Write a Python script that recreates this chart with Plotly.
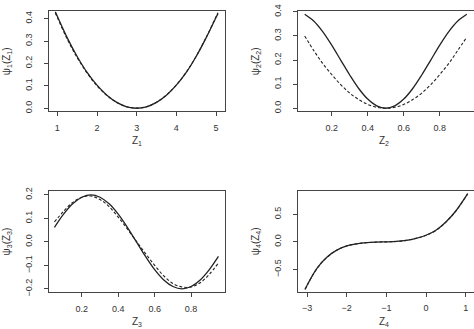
import plotly.graph_objects as go

# Component functions: true curve (solid) and estimate (dashed)
z1 = [0.95, 1.0, 1.25, 1.5, 1.75, 2.0, 2.25, 2.5, 2.75, 3.0, 3.25, 3.5, 3.75, 4.0, 4.25, 4.5, 4.75, 5.0, 5.05]
psi1_true = [0.430, 0.410, 0.314, 0.231, 0.160, 0.103, 0.058, 0.026, 0.006, 0.0, 0.006, 0.026, 0.058, 0.103, 0.160, 0.231, 0.314, 0.405, 0.422]
psi1_est = [0.425, 0.405, 0.308, 0.226, 0.157, 0.100, 0.057, 0.026, 0.007, 0.001, 0.007, 0.027, 0.059, 0.104, 0.161, 0.232, 0.315, 0.408, 0.426]

z2 = [0.05, 0.10, 0.15, 0.20, 0.25, 0.30, 0.35, 0.40, 0.45, 0.50, 0.55, 0.60, 0.65, 0.70, 0.75, 0.80, 0.85, 0.90, 0.95]
psi2_true = [0.390, 0.362, 0.318, 0.262, 0.200, 0.138, 0.082, 0.038, 0.010, 0.0, 0.010, 0.038, 0.082, 0.138, 0.200, 0.262, 0.318, 0.362, 0.390]
psi2_est = [0.300, 0.240, 0.186, 0.140, 0.098, 0.063, 0.036, 0.016, 0.004, 0.0, 0.004, 0.016, 0.036, 0.063, 0.098, 0.140, 0.186, 0.240, 0.295]

z3 = [0.05, 0.10, 0.15, 0.20, 0.25, 0.30, 0.35, 0.40, 0.45, 0.50, 0.55, 0.60, 0.65, 0.70, 0.75, 0.80, 0.85, 0.90, 0.95]
psi3_true = [0.062, 0.118, 0.162, 0.190, 0.200, 0.190, 0.162, 0.118, 0.062, 0.0, -0.062, -0.118, -0.162, -0.190, -0.200, -0.190, -0.162, -0.118, -0.062]
psi3_est = [0.085, 0.130, 0.168, 0.190, 0.195, 0.180, 0.150, 0.105, 0.055, 0.002, -0.050, -0.100, -0.145, -0.177, -0.192, -0.192, -0.174, -0.138, -0.090]

z4 = [-3.05, -2.75, -2.5, -2.25, -2.0, -1.75, -1.5, -1.25, -1.0, -0.75, -0.5, -0.25, 0.0, 0.25, 0.5, 0.75, 1.05]
psi4_true = [-0.860, -0.480, -0.280, -0.150, -0.075, -0.037, -0.015, -0.004, 0.0, 0.008, 0.028, 0.065, 0.120, 0.210, 0.360, 0.560, 0.875]
psi4_est = [-0.865, -0.485, -0.283, -0.152, -0.076, -0.037, -0.015, -0.004, 0.0, 0.007, 0.027, 0.064, 0.118, 0.208, 0.357, 0.558, 0.872]

x_ticks = [[1, 2, 3, 4, 5], [0.2, 0.4, 0.6, 0.8], [0.2, 0.4, 0.6, 0.8], [-3, -2, -1, 0, 1]]
y_ticks = [[0.0, 0.1, 0.2, 0.3, 0.4], [0.0, 0.1, 0.2, 0.3, 0.4], [-0.2, -0.1, 0.0, 0.1, 0.2], [-0.5, 0.0, 0.5]]
x_titles = ["Z<sub>1</sub>", "Z<sub>2</sub>", "Z<sub>3</sub>", "Z<sub>4</sub>"]
y_titles = ["ψ<sub>1</sub>(Z<sub>1</sub>)", "ψ<sub>2</sub>(Z<sub>2</sub>)",
            "ψ<sub>3</sub>(Z<sub>3</sub>)", "ψ<sub>4</sub>(Z<sub>4</sub>)"]

W, H = 474, 329
FONT = "Liberation Sans, Arial, sans-serif"
INK = "#222222"
TXT = "#333333"

# panel boxes in pixels: left, right, top, bottom
boxes = [(49, 225, 4, 108), (298, 474, 4, 108), (49, 225, 190, 295), (298, 474, 190, 294.5)]
x_ranges = [[0.79, 5.227], [0.013, 0.99], [0.02, 0.986], [-3.227, 1.209]]
y_ranges = [[-0.014, 0.4345], [-0.013, 0.404], [-0.214, 0.218], [-0.905, 0.93]]
y_fmt = [".1f", ".1f", ".1f", ".1f"]
x_fmt = ["d", ".1f", ".1f", "d"]

series = [(z1, psi1_true, psi1_est), (z2, psi2_true, psi2_est),
          (z3, psi3_true, psi3_est), (z4, psi4_true, psi4_est)]

fig = go.Figure()
layout = {}
annotations = []
for i, (z, tr, es) in enumerate(series):
    k = "" if i == 0 else str(i + 1)
    xa, ya = "x" + k, "y" + k
    fig.add_trace(go.Scatter(x=z, y=es, mode="lines", xaxis=xa, yaxis=ya,
                             line=dict(color=INK, width=1.1, dash="3px,2px", shape="spline"),
                             showlegend=False, hoverinfo="skip"))
    fig.add_trace(go.Scatter(x=z, y=tr, mode="lines", xaxis=xa, yaxis=ya,
                             line=dict(color=INK, width=1.3, shape="spline"),
                             showlegend=False, hoverinfo="skip"))
    l, r, t, b = boxes[i]
    right_col = i % 2 == 1
    layout["xaxis" + k] = dict(
        domain=[l / W, min(r / W, 1.0)], range=x_ranges[i], anchor=ya,
        tickvals=x_ticks[i], tickformat=x_fmt[i], ticks="outside", ticklen=4,
        tickwidth=1, tickcolor="#444", showgrid=False, zeroline=False,
        showline=True, linecolor="#444", linewidth=1, mirror=True,
        tickfont=dict(family=FONT, size=9, color=TXT), ticklabelstandoff=4)
    layout["yaxis" + k] = dict(
        domain=[1 - b / H, 1 - t / H], range=y_ranges[i], anchor=xa,
        tickvals=y_ticks[i], tickformat=y_fmt[i], ticks="outside", ticklen=4,
        tickwidth=1, tickcolor="#444", showgrid=False, zeroline=False,
        showline=True, linecolor="#444", linewidth=1,
        mirror=False if right_col else True,
        tickangle=-90, tickfont=dict(family=FONT, size=9, color=TXT),
        ticklabelstandoff=8)
    # axis titles
    annotations.append(dict(text=x_titles[i], xref="paper", yref="paper",
                            x=((l + min(r, 474)) / 2 + (0 if not right_col else -2)) / W,
                            y=1 - (b + 31) / H, showarrow=False,
                            font=dict(family=FONT, size=10, color=TXT),
                            xanchor="center", yanchor="middle"))
    annotations.append(dict(text=y_titles[i], xref="paper", yref="paper",
                            x=(l - 42) / W, y=1 - ((t + b) / 2) / H, showarrow=False,
                            textangle=-90, font=dict(family=FONT, size=10, color=TXT),
                            xanchor="center", yanchor="middle"))

fig.update_layout(width=W, height=H, margin=dict(l=0, r=0, t=0, b=0),
                  paper_bgcolor="white", plot_bgcolor="white",
                  annotations=annotations, **layout)
fig.write_html("out.html")
